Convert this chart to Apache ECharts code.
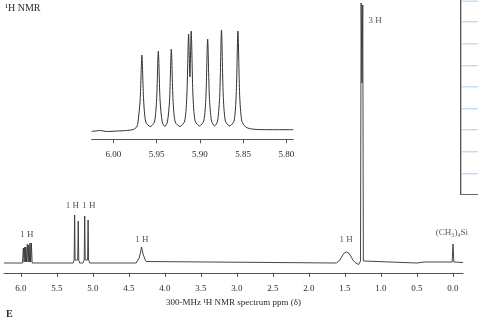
<!DOCTYPE html>
<html>
<head>
<meta charset="utf-8">
<script src="https://cdn.jsdelivr.net/npm/echarts@6/dist/echarts.min.js"></script>
<style>html,body{margin:0;padding:0;background:#fff}#c{width:478px;height:323px}</style>
</head>
<body>
<div id="c"></div>
<script>
// Main spectrum vertices: [ppm, signal height above baseline]
const mainSpectrum = [
  [6.236, 0], [5.98, 0], [5.967, 15], [5.9575, 1], [5.948, 16], [5.9405, 1], [5.933, 16],
  [5.923, 1], [5.912, 19], [5.9005, 1], [5.891, 18], [5.883, 1], [5.875, 20], [5.8655, 1],
  [5.856, 20], [5.845, 0],
  [5.275, 0], [5.262, 3], [5.255, 48], [5.248, 3], [5.23, 1.5], [5.212, 3], [5.205, 42],
  [5.198, 3], [5.185, 0], [5.14, 0], [5.122, 3], [5.115, 47], [5.108, 3], [5.09, 1.5],
  [5.075, 3], [5.068, 43], [5.061, 3], [5.045, 0],
  [4.40, 0], [4.38, 2], [4.36, 5], [4.345, 9], [4.335, 8], [4.325, 16], [4.315, 14],
  [4.305, 9], [4.295, 7], [4.28, 4], [4.26, 1.5], [4.24, 0],
  [1.62, 0], [1.60, 0.8], [1.57, 3], [1.54, 7], [1.51, 10], [1.48, 11], [1.45, 10],
  [1.42, 7], [1.39, 3], [1.36, 0.5], [1.335, -1], [1.31, -1.5], [1.29, 0],
  [1.285, 2], [1.276, 260], [1.2645, 180], [1.253, 258], [1.245, 2], [1.235, 0],
  [0.5, 0], [0.4, 1], [0.012, 1], [0.0, 19], [-0.012, 1], [-0.03, 0.5], [-0.14, 0.5]
];

// Inset (5.80–6.00 ppm expansion) vertices: [ppm, height]
const insetSpectrum = [
  [6.025, -1.5], [6.015, -0.5], [6.008, -1.5], [5.995, -1], [5.985, -0.5], [5.977, 0.5], [5.973, 3],
  [5.9715, 8], [5.969, 30], [5.967, 75], [5.965, 30], [5.9625, 8],
  [5.9575, 3.5],
  [5.9525, 8], [5.950, 30], [5.948, 79], [5.946, 30], [5.9435, 8],
  [5.9405, 3.5],
  [5.9375, 8], [5.935, 30], [5.933, 81], [5.931, 30], [5.9285, 8],
  [5.923, 3.5],
  [5.9175, 9], [5.915, 35], [5.913, 96], [5.9115, 53], [5.910, 99], [5.908, 35], [5.9055, 9],
  [5.9005, 4],
  [5.8955, 9], [5.893, 33], [5.891, 91], [5.889, 33], [5.8865, 9],
  [5.883, 4],
  [5.8795, 9], [5.877, 35], [5.875, 100], [5.873, 35], [5.8705, 9],
  [5.8655, 4],
  [5.8605, 9], [5.858, 35], [5.856, 99], [5.854, 35], [5.8515, 9],
  [5.847, 3], [5.840, 1], [5.825, 0.3], [5.792, 0.3]
];

const mainTicks = [0, 0.5, 1.0, 1.5, 2.0, 2.5, 3.0, 3.5, 4.0, 4.5, 5.0, 5.5, 6.0];
const insetTicks = [5.80, 5.85, 5.90, 5.95, 6.00];

// Integration labels: [ppm, height, text]
const peakLabels = [
  [5.917, 28, '1 H'],
  [5.285, 57, '1 H'],
  [5.056, 57, '1 H'],
  [4.32, 23, '1 H'],
  [1.486, 23, '1 H'],
  [1.083, 242, '3 H'],
  [0.014, 30, '(CH\u2083)\u2084Si']
];

const FONT = '"Liberation Serif", "DejaVu Serif", serif';
const TXT = '#2a2a2a';

const chart = echarts.init(document.getElementById('c'), null, {renderer: 'canvas'});

const boxLines = [0.7, 21.3, 43.3, 65.3, 86.3, 108.3, 129.3, 151.3, 173.3];
const graphics = [
  {type: 'text', left: 5, top: 3, style: {text: '\u00B9H NMR', font: '10px ' + FONT, fill: TXT}},
  {type: 'text', left: 6, top: 309, style: {text: 'E', font: 'bold 10px ' + FONT, fill: TXT}},
  {type: 'line', shape: {x1: 460.5, y1: 0, x2: 460.5, y2: 194}, style: {stroke: '#555', lineWidth: 1}},
  {type: 'line', shape: {x1: 461.5, y1: 0, x2: 461.5, y2: 194}, style: {stroke: '#a8cdef', lineWidth: 1}},
  {type: 'line', shape: {x1: 460, y1: 194.5, x2: 478, y2: 194.5}, style: {stroke: '#666', lineWidth: 1}}
];
boxLines.forEach(y => graphics.push({type: 'line', shape: {x1: 462, y1: y + 0.5, x2: 478, y2: y + 0.5}, style: {stroke: '#a8cdef', lineWidth: 1}}));

chart.setOption({
  animation: false,
  backgroundColor: '#fff',
  grid: [
    {left: 4, right: 15, top: 3, height: 270},
    {left: 91.7, width: 201.6, top: 20, height: 119.3}
  ],
  xAxis: [
    {
      type: 'value', gridIndex: 0, inverse: true, min: -0.139, max: 6.236,
      splitLine: {show: false},
      axisLine: {onZero: false, lineStyle: {color: '#555', width: 1}},
      axisTick: {length: 4, customValues: mainTicks, lineStyle: {color: '#555'}},
      axisLabel: {customValues: mainTicks, margin: 11, fontSize: 9, fontFamily: FONT, color: TXT,
        formatter: v => v.toFixed(1)},
      name: '300-MHz \u00B9H NMR spectrum ppm (\u03B4)', nameLocation: 'middle', nameGap: 23,
      nameTextStyle: {fontSize: 9, fontFamily: FONT, color: TXT}
    },
    {
      type: 'value', gridIndex: 1, inverse: true, min: 5.792, max: 6.025,
      splitLine: {show: false},
      axisLine: {onZero: false, lineStyle: {color: '#555', width: 1}},
      axisTick: {length: 4, customValues: insetTicks, lineStyle: {color: '#555'}},
      axisLabel: {customValues: insetTicks, margin: 11, fontSize: 9, fontFamily: FONT, color: TXT,
        formatter: v => v.toFixed(2)}
    }
  ],
  yAxis: [
    {type: 'value', gridIndex: 0, min: -10, max: 260, show: false, splitLine: {show: false}},
    {type: 'value', gridIndex: 1, min: -9.3, max: 110, show: false, splitLine: {show: false}}
  ],
  series: [
    {
      type: 'line', xAxisIndex: 0, yAxisIndex: 0, data: mainSpectrum, showSymbol: false,
      lineStyle: {color: '#333', width: 0.9}, silent: true
    },
    {
      type: 'line', xAxisIndex: 1, yAxisIndex: 1, data: insetSpectrum, showSymbol: false,
      smooth: 0.25,
      lineStyle: {color: '#333', width: 1}, silent: true
    },
    {
      type: 'scatter', xAxisIndex: 0, yAxisIndex: 0, symbolSize: 0,
      data: peakLabels.map(d => ({value: [d[0], d[1]], name: d[2]})),
      label: {show: true, position: 'inside', formatter: p => p.name, fontSize: 9,
        fontFamily: FONT, color: TXT},
      silent: true
    }
  ],
  graphic: graphics
});
</script>
</body>
</html>
